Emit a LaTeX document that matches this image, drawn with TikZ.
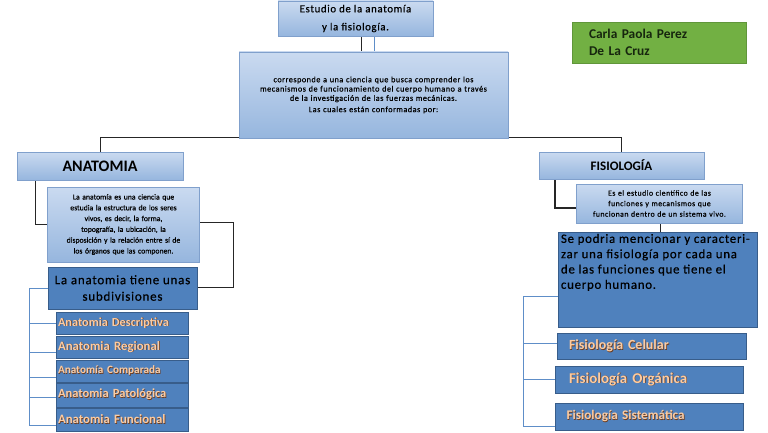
\documentclass[tikz,border=0pt]{standalone}
\usepackage{fontspec}
\setmainfont{Carlito}
\newfontfamily\spaced{Carlito}[LetterSpace=6, FakeBold=0.5]
\newfontfamily\heavy{Carlito}[FakeBold=0.5]
\pgfdeclarelayer{background}
\pgfsetlayers{background,main}
\definecolor{lbtop}{RGB}{202,218,240}
\definecolor{lbbot}{RGB}{150,182,222}
\definecolor{lbborder}{RGB}{128,160,204}
\definecolor{dfill}{RGB}{79,129,189}
\definecolor{dborder}{RGB}{56,93,138}
\definecolor{gfill}{RGB}{114,176,67}
\definecolor{gborder}{RGB}{96,150,58}
\definecolor{gtext}{RGB}{22,38,14}
\definecolor{treec}{RGB}{94,142,200}
\definecolor{otext}{RGB}{252,204,162}
\definecolor{oshadow}{RGB}{110,60,30}
\newcommand\ortext[1]{\makebox[0pt][l]{\kern0.7pt\raisebox{-0.7pt}{\color{oshadow}#1}}{\color{otext}#1}}
\tikzset{
  lbox/.style={draw=lbborder, line width=0.8pt, top color=lbtop, bottom color=lbbot, inner sep=2pt, align=center, text=black},
  dbox/.style={draw=dborder, line width=0.8pt, fill=dfill, inner sep=2pt, align=center, text=black},
  obox/.style={dbox, align=left, font=\bfseries},
  gbox/.style={draw=gborder, line width=0.8pt, fill=gfill, align=left, text=gtext},
  conn/.style={draw=black!85, line width=1pt},
  tree/.style={draw=treec, line width=0.9pt}
}
\begin{document}
\begin{tikzpicture}[x=1pt,y=-1pt]
\useasboundingbox (0,0) rectangle (768,433);
% top
\node[lbox, minimum width=155pt, minimum height=35pt, font=\spaced\fontsize{10.8}{18}\selectfont] (title) at (355.5,18.5) {Estudio de la anatomía\\y la fisiología.};
\node[lbox, minimum width=269pt, minimum height=86pt, text width=265pt, font=\spaced\fontsize{8.2}{9.3}\selectfont] (main) at (373.5,95) {corresponde a una ciencia que busca comprender los\\mecanismos de funcionamiento del cuerpo humano a través\\de la investigación de las fuerzas mecánicas.\\[2pt]Las cuales están conformadas por:};
\node[gbox, minimum width=174pt, minimum height=41pt, text width=140pt, inner xsep=17pt, font=\bfseries\fontsize{13.4}{16.5}\selectfont] (author) at (659,42.5) {Carla Paola Perez\\De La Cruz};
% left
\node[lbox, minimum width=166pt, minimum height=28pt, font=\bfseries\fontsize{16}{18}\selectfont] (anat) at (100,166) {ANATOMIA};
\node[lbox, minimum width=151pt, minimum height=75pt, text width=148pt, font=\heavy\fontsize{7.7}{10.8}\selectfont] (adesc) at (123.5,224.5) {La anatomía es una ciencia que\\estudia la estructura de los seres\\vivos, es decir, la forma,\\topografía, la ubicación, la\\disposición y la relación entre sí de\\los órganos que las componen.};
\node[dbox, minimum width=149pt, minimum height=42pt, font=\spaced\fontsize{13}{16.5}\selectfont] (asub) at (122.5,288) {La anatomia tiene unas\\subdivisiones};
\node[obox, minimum width=132pt, minimum height=22pt, text width=128pt, font=\bfseries\fontsize{12.3}{14}\selectfont] (a1) at (122,323) {\ortext{Anatomia Descriptiva}};
\node[obox, minimum width=132pt, minimum height=22pt, text width=128pt, font=\bfseries\fontsize{12.8}{14}\selectfont] (a2) at (122,347) {\ortext{Anatomia Regional}};
\node[obox, minimum width=132pt, minimum height=22pt, text width=128pt, font=\bfseries\fontsize{11.2}{14}\selectfont] (a3) at (122,371) {\ortext{Anatomía Comparada}};
\node[obox, minimum width=132pt, minimum height=24pt, text width=128pt, font=\bfseries\fontsize{12.5}{14}\selectfont] (a4) at (122,395) {\ortext{Anatomia Patológica}};
\node[obox, minimum width=132pt, minimum height=23pt, text width=128pt, font=\bfseries\fontsize{12.8}{14}\selectfont] (a5) at (122,419.5) {\ortext{Anatomia Funcional}};
% right
\node[lbox, minimum width=165pt, minimum height=27pt, font=\bfseries\fontsize{13}{15}\selectfont] (fis) at (621.5,165.5) {FISIOLOGÍA};
\node[lbox, minimum width=165pt, minimum height=39pt, text width=162pt, font=\spaced\fontsize{7.8}{10.5}\selectfont] (fdesc) at (659.5,203.5) {Es el estudio científico de las\\funciones y mecanismos que\\funcionan dentro de un sistema vivo.};
\node[dbox, minimum width=199pt, minimum height=95pt, inner sep=0pt, font=\spaced\fontsize{12.8}{15.3}\selectfont] (fbig) at (657.5,279.5) {\parbox[c][91pt][t]{193pt}{\raggedright Se podria mencionar y caracteri-\\zar una fisiología por cada una\\de las funciones que tiene el\\cuerpo humano.}};
\node[obox, minimum width=189pt, minimum height=26pt, text width=165pt, inner xsep=10pt, font=\bfseries\fontsize{14}{16}\selectfont] (f1) at (651.5,346) {\ortext{Fisiología Celular}};
\node[obox, minimum width=188pt, minimum height=27pt, text width=160pt, inner xsep=13pt, font=\bfseries\fontsize{15}{17}\selectfont] (f2) at (649,379.5) {\ortext{Fisiología Orgánica}};
\node[obox, minimum width=188pt, minimum height=27pt, text width=165pt, inner xsep=10pt, font=\bfseries\fontsize{13.2}{15}\selectfont] (f3) at (649,416.5) {\ortext{Fisiología Sistemática}};
% joints
\coordinate (lt) at (29,288);
\coordinate (rt) at (523,296);
\begin{pgfonlayer}{background}
\draw[conn] ([xshift=5.5pt]title.south) -- ([xshift=-12.5pt]main.north);
\draw[tree] ([xshift=18.5pt]title.south) -- ([xshift=0.5pt]main.north);
\draw[conn] (anat.north) |- ([yshift=1pt]main.south) -| (fis.north);
\draw[conn, line width=0.8pt] ([xshift=-65pt]anat.south) |- (adesc.west);
\draw[conn, line width=0.8pt] ([yshift=2.5pt]adesc.east) -- ++(33,0) |- ([yshift=1pt]asub.east);
\draw[tree] (asub.west) -| (lt);
\draw[tree] (a1.west) -| (lt);
\draw[tree] ([yshift=-5pt]a2.west) -| (lt);
\draw[tree] ([yshift=-6pt]a3.west) -| (lt);
\draw[tree] ([yshift=-2pt]a4.west) -| (lt);
\draw[tree] ([yshift=-5.5pt]a5.west) -| (lt);
\draw[conn, line width=1.5pt] ([xshift=-66.5pt]fis.south) |- ([yshift=-4.5pt]fdesc.west);
\draw[conn, line width=0.8pt] ([xshift=0.5pt]fdesc.south) -- ([xshift=2.5pt]fbig.north);
\draw[tree] ([yshift=-16.5pt]fbig.west) -| (rt);
\draw[tree] ([yshift=3pt]f1.west) -| (rt);
\draw[tree] (f2.west) -| (rt);
\draw[tree] ([yshift=-9.5pt]f3.west) -| (rt);
\end{pgfonlayer}
\end{tikzpicture}
\end{document}
